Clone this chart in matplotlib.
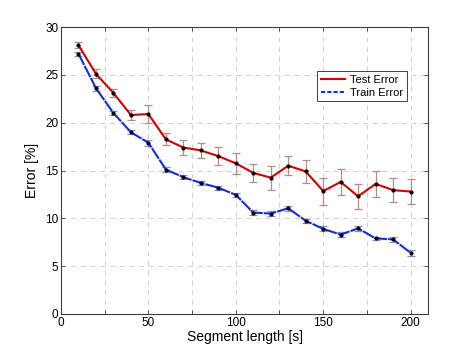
import numpy as np
import matplotlib
matplotlib.use("Agg")
import matplotlib.pyplot as plt

plt.rcParams['font.family'] = ['Liberation Sans', 'DejaVu Sans']

# segment lengths [s]
seg_len = [10, 20, 30, 40, 50, 60, 70, 80, 90, 100,
           110, 120, 130, 140, 150, 160, 170, 180, 190, 200]

# test error mean / std
test_err = [28.1, 25.1, 23.1, 20.8, 20.9, 18.25, 17.4, 17.1, 16.5, 15.75,
            14.75, 14.25, 15.5, 14.9, 12.85, 13.8, 12.3, 13.6, 12.95, 12.8]
test_std = [0.3, 0.47, 0.45, 0.5, 0.92, 0.63, 0.82, 0.78, 0.94, 1.13,
            0.92, 1.24, 1.0, 1.18, 1.41, 1.38, 1.3, 1.38, 1.29, 1.29]

# train error mean / std
train_err = [27.2, 23.6, 21.0, 19.0, 17.9, 15.1, 14.3, 13.7, 13.2, 12.45,
             10.6, 10.5, 11.05, 9.75, 8.9, 8.3, 8.95, 7.9, 7.8, 6.4]
train_std = [0.2, 0.25, 0.25, 0.2, 0.3, 0.25, 0.2, 0.2, 0.2, 0.25,
             0.3, 0.25, 0.25, 0.2, 0.25, 0.3, 0.25, 0.2, 0.3, 0.3]

xticks = [0, 25, 50, 75, 100, 125, 150, 175, 200]
xticklabels = ['0', '', '50', '', '100', '', '150', '', '200']
yticks = [0, 5, 10, 15, 20, 25, 30]

fig = plt.figure(figsize=(4.74, 3.54), dpi=100)
ax = fig.add_axes([0.1287, 0.113, 0.7743, 0.8107])

ax.errorbar(seg_len, test_err, yerr=test_std, fmt='none', ecolor='#b48a8a',
            elinewidth=0.9, capsize=3, capthick=0.9, zorder=2)
ax.errorbar(seg_len, train_err, yerr=train_std, fmt='none', ecolor='#8a8ac8',
            elinewidth=0.9, capsize=3, capthick=0.9, zorder=2)

ax.plot(seg_len, test_err, '-', color='#d40000', lw=1.5, label='Test Error', zorder=3)
ax.plot(seg_len, train_err, '--', dashes=(6, 0.5), color='#1030d8', lw=1.5,
        label='Train Error', zorder=3)
ax.plot(seg_len, test_err, 'o', color='black', ms=2.0, zorder=4)
ax.plot(seg_len, train_err, 'o', color='black', ms=2.0, zorder=4)

ax.set_xlim(0, 210)
ax.set_ylim(0, 30)
ax.set_xticks(xticks)
ax.set_xticklabels(xticklabels)
ax.set_yticks(yticks)
ax.tick_params(direction='in', top=True, right=True, labelsize=8.5,
               length=3, width=0.6, color='#404040', pad=2)
ax.grid(True, linestyle=(0, (5, 5)), color='#d0d0d0', linewidth=0.7)
ax.set_axisbelow(True)
for s in ax.spines.values():
    s.set_color('#404040')
    s.set_linewidth(0.8)

ax.set_xlabel('Segment length [s]', fontsize=10, labelpad=1)
ax.set_ylabel('Error [%]', fontsize=10, labelpad=4)

leg = ax.legend(loc='upper right', bbox_to_anchor=(0.942, 0.845), fontsize=8,
                frameon=True, fancybox=False, framealpha=1, edgecolor='#404040',
                handlelength=2.2, borderpad=0.35, labelspacing=0.2, handletextpad=0.4,
                borderaxespad=0)
leg.get_frame().set_linewidth(0.7)
leg.get_lines()[1].set_dashes((2, 1))

fig.savefig('out.png', dpi=100)
